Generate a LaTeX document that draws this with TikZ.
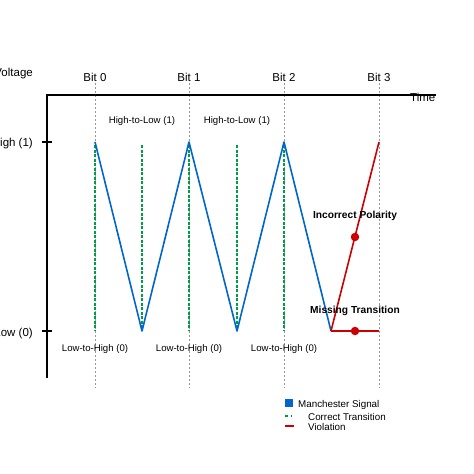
\documentclass[tikz,border=0pt]{standalone}
\usepackage{fontspec}
\setmainfont{Liberation Sans}
\definecolor{sigblue}{RGB}{0,102,204}
\definecolor{okgreen}{RGB}{0,155,70}
\definecolor{badred}{RGB}{204,0,0}
\definecolor{gridgray}{RGB}{150,150,150}
\begin{document}
\begin{tikzpicture}[x=1pt,y=-1pt,
  axisline/.style={black,line width=1.2pt},
  bitline/.style={gridgray,line width=1pt,dash pattern=on 1.5pt off 2.5pt},
  okline/.style={okgreen,line width=1.2pt,dash pattern=on 3pt off 1.5pt},
  sigline/.style={sigblue,line width=1.6pt,line join=round},
  badline/.style={badred,line width=1.6pt},
  baddot/.style={circle,fill=badred,inner sep=0pt,minimum size=8.5pt},
  lbl/.style={font=\fontsize{11.5}{13}\selectfont,inner sep=0pt},
  small/.style={font=\fontsize{9.6}{11}\selectfont,inner sep=0pt},
  legendtxt/.style={font=\fontsize{9.8}{11}\selectfont,inner sep=0pt},
  boldlbl/.style={font=\fontsize{10.2}{12}\selectfont\bfseries,inner sep=0pt}]
\useasboundingbox (0,0) rectangle (474,474);
% bit gridlines
\foreach \i/\x in {0/95,1/189,2/284,3/379}{
  \coordinate (gt\i) at (\x,83);
  \coordinate (gb\i) at (\x,388);
  \draw[bitline] (gt\i) -- (gb\i);
  \node[lbl] (bit\i) at (\x,77.5) {Bit \i};
}
% axes
\coordinate (origin) at (47,95);
\coordinate (ybot) at (47,378);
\coordinate (xend) at (436,95);
\draw[axisline] (ybot) -- (origin) -- (xend);
\node[lbl,anchor=west] (time) at (410,97.5) {Time};
\node[lbl,anchor=east] (voltage) at (33,73.5) {Voltage};
% ticks
\coordinate (th1) at (42,142); \coordinate (th2) at (52,142);
\coordinate (tl1) at (42,331); \coordinate (tl2) at (52,331);
\draw[axisline] (th1) -- (th2);
\draw[axisline] (tl1) -- (tl2);
\node[lbl,anchor=east] (high) at (33,143.5) {High (1)};
\node[lbl,anchor=east] (low) at (33,333.5) {Low (0)};
% correct transitions
\foreach \j/\x in {a/95,b/142,c/189,d/237,e/284}{
  \coordinate (ct\j) at (\x,145);
  \coordinate (cb\j) at (\x,331);
  \draw[okline] (ct\j) -- (cb\j);
}
% signal
\coordinate (s0) at (95,142);
\coordinate (s1) at (142,331);
\coordinate (s2) at (189,142);
\coordinate (s3) at (237,331);
\coordinate (s4) at (284,142);
\coordinate (s5) at (331,331);
\draw[sigline] (s0) -- (s1) -- (s2) -- (s3) -- (s4) -- (s5);
% violations
\coordinate (v1) at (379,331);
\coordinate (v2) at (379,142);
\draw[badline] (s5) -- (v1);
\draw[badline] (s5) -- (v2);
\node[baddot] (d1) at (355,331) {};
\node[baddot] (d2) at (355,237) {};
\node[boldlbl] (ip) at (355,215.5) {Incorrect Polarity};
\node[boldlbl] (mt) at (355,310.5) {Missing Transition};
% labels
\node[small] (h1) at (142,121.5) {High-to-Low (1)};
\node[small] (h2) at (237,121.5) {High-to-Low (1)};
\node[small] (l0) at (95,349.5) {Low-to-High (0)};
\node[small] (l1) at (189,349.5) {Low-to-High (0)};
\node[small] (l2) at (284,349.5) {Low-to-High (0)};
% legend
\node[fill=sigblue,minimum size=8.5pt,inner sep=0pt] (lgb) at (289,403) {};
\node[legendtxt,anchor=west] (lgbt) at (298,405) {Manchester Signal};
\coordinate (lg1) at (285,416); \coordinate (lg2) at (294,416);
\draw[okgreen,line width=1.2pt,dash pattern=on 3pt off 3pt on 1.2pt off 3pt] (lg1) -- (lg2);
\node[legendtxt,anchor=west] (lggt) at (308,417) {Correct Transition};
\coordinate (lr1) at (285,426); \coordinate (lr2) at (294,426);
\draw[badred,line width=1.6pt] (lr1) -- (lr2);
\node[legendtxt,anchor=west] (lgrt) at (308,427) {Violation};
\end{tikzpicture}
\end{document}
